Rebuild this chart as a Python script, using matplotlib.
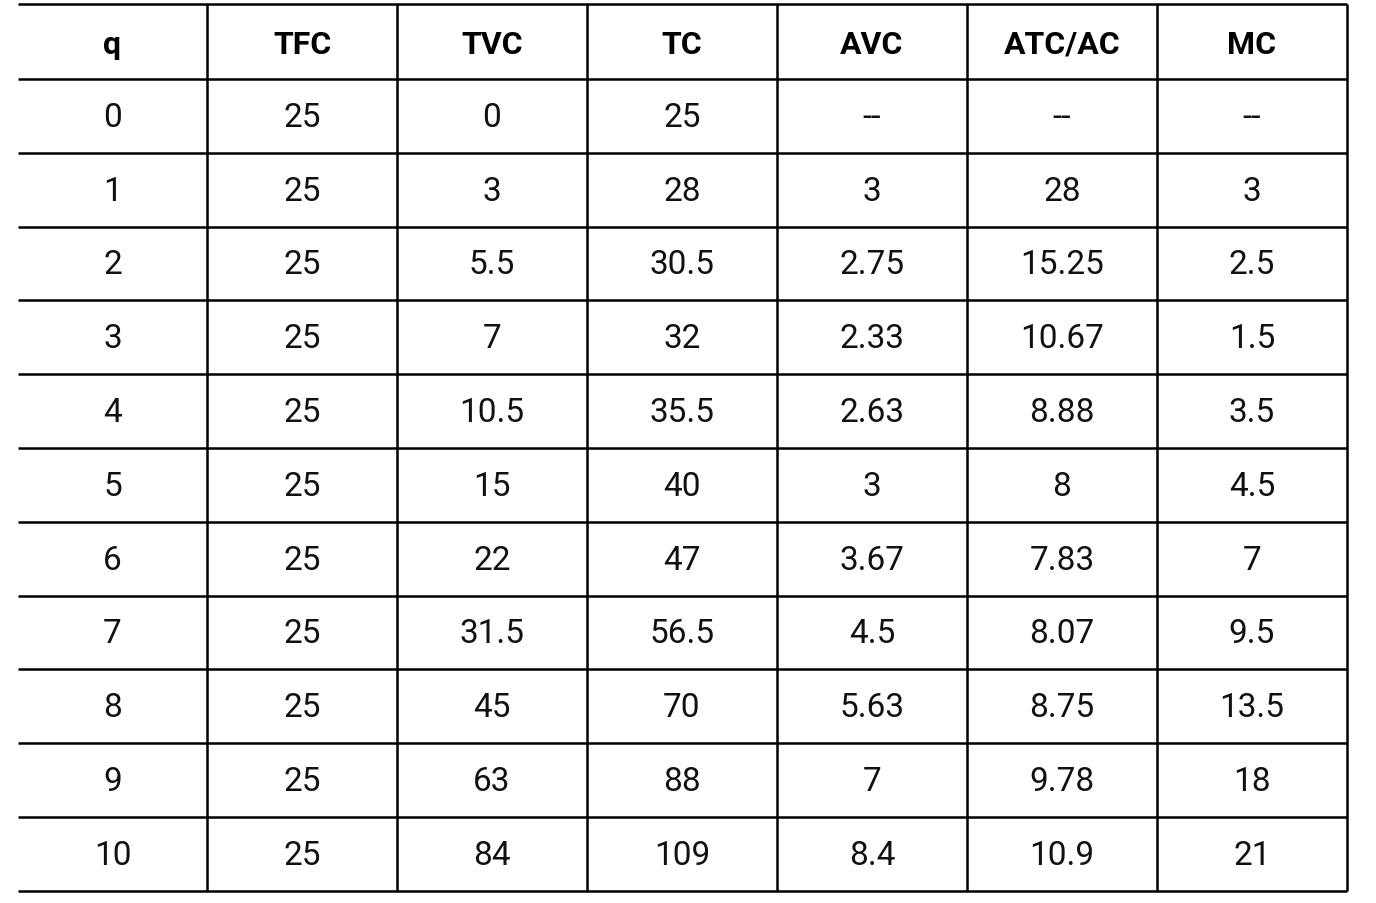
import matplotlib.pyplot as plt

headers = ['q', 'TFC', 'TVC', 'TC', 'AVC', 'ATC/AC', 'MC']
q = ['0', '1', '2', '3', '4', '5', '6', '7', '8', '9', '10']
tfc = ['25'] * 11
tvc = ['0', '3', '5.5', '7', '10.5', '15', '22', '31.5', '45', '63', '84']
tc = ['25', '28', '30.5', '32', '35.5', '40', '47', '56.5', '70', '88', '109']
avc = ['--', '3', '2.75', '2.33', '2.63', '3', '3.67', '4.5', '5.63', '7', '8.4']
atc = ['--', '28', '15.25', '10.67', '8.88', '8', '7.83', '8.07', '8.75', '9.78', '10.9']
mc = ['--', '3', '2.5', '1.5', '3.5', '4.5', '7', '9.5', '13.5', '18', '21']
columns = [q, tfc, tvc, tc, avc, atc, mc]

W, H = 1376, 904
col_x = [18, 207, 397, 587, 777, 967, 1157, 1347]
row_y = [5, 80, 154, 228, 301, 375, 449, 523, 597, 670, 744, 818, 892]

fig = plt.figure(figsize=(W / 100, H / 100), dpi=100)
ax = fig.add_axes([0, 0, 1, 1])
ax.set_xlim(0, W)
ax.set_ylim(H, 0)
ax.axis('off')

ax.hlines(row_y, col_x[0], col_x[-1], color='black', lw=1.8)
ax.vlines(col_x[1:], row_y[0], row_y[-1], color='black', lw=1.8)

for j, h in enumerate(headers):
    cx = (col_x[j] + col_x[j + 1]) / 2
    cy = (row_y[0] + row_y[1]) / 2
    ax.text(cx, cy + 2, h, ha='center', va='center', fontsize=23,
            fontweight='bold', family='Roboto')
    for i, v in enumerate(columns[j]):
        cy = (row_y[i + 1] + row_y[i + 2]) / 2
        ax.text(cx, cy + 1, v, ha='center', va='center', fontsize=24,
                family='Roboto', color='#111111')

fig.savefig('out.png', dpi=100)
